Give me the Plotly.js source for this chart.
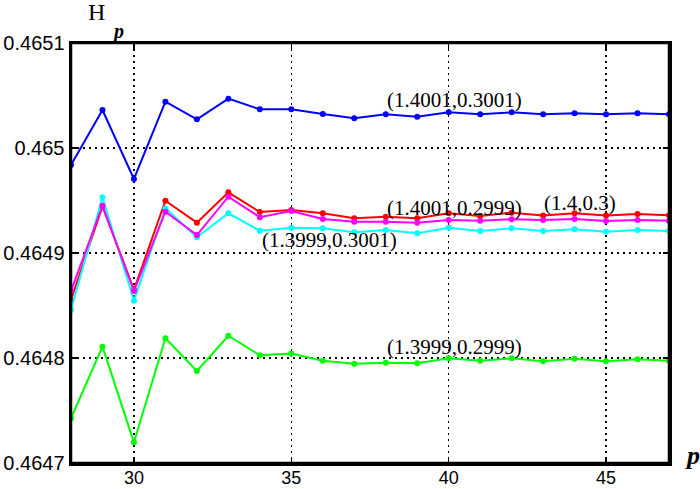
<!DOCTYPE html>
<html>
<head>
<meta charset="utf-8">
<script src="https://cdn.plot.ly/plotly-3.0.1.min.js"></script>
<style>html,body{margin:0;padding:0;background:#fff;}#chart{width:700px;height:489px;}</style>
</head>
<body>
<div id="chart"></div>
<script>
const p = [28,29,30,31,32,33,34,35,36,37,38,39,40,41,42,43,44,45,46,47];

const h_14001_03001 = [0.4649838,0.4650362,0.4649705,0.4650441,0.4650273,0.4650470,0.4650368,0.4650368,0.4650324,0.4650283,
                       0.4650321,0.4650298,0.4650340,0.4650321,0.4650340,0.4650321,0.4650330,0.4650321,0.4650330,0.4650321];
const h_14001_02999 = [0.4648552,0.4649445,0.4648650,0.4649498,0.4649289,0.4649578,0.4649390,0.4649410,0.4649378,0.4649330,
                       0.4649346,0.4649330,0.4649378,0.4649352,0.4649384,0.4649356,0.4649378,0.4649356,0.4649371,0.4649359];
const h_14_03       = [0.4648638,0.4649450,0.4648638,0.4649393,0.4649171,0.4649536,0.4649340,0.4649400,0.4649324,0.4649298,
                       0.4649298,0.4649289,0.4649314,0.4649308,0.4649321,0.4649314,0.4649324,0.4649305,0.4649314,0.4649308];
const h_13999_03001 = [0.4648457,0.4649530,0.4648546,0.4649425,0.4649150,0.4649378,0.4649212,0.4649241,0.4649235,0.4649197,
                       0.4649219,0.4649188,0.4649241,0.4649210,0.4649235,0.4649210,0.4649226,0.4649203,0.4649219,0.4649210];
const h_13999_02999 = [0.4647426,0.4648108,0.4647197,0.4648188,0.4647876,0.4648212,0.4648026,0.4648042,0.4647974,0.4647946,
                       0.4647955,0.4647950,0.4647997,0.4647974,0.4647997,0.4647968,0.4647993,0.4647968,0.4647987,0.4647974];

const xTicks = [30,35,40,45];
const yTicks = [0.4647,0.4648,0.4649,0.465,0.4651];
const yTickText = ['0.4647','0.4648','0.4649','0.465','0.4651'];
const labels = ['(1.4001,0.3001)','(1.4001,0.2999)','(1.4,0.3)','(1.3999,0.3001)','(1.3999,0.2999)'];

function tr(y, color) {
  return {x: p, y: y, type: 'scatter', mode: 'lines+markers',
          line: {color: color, width: 2}, marker: {color: color, size: 6}, hoverinfo: 'skip'};
}
const data = [
  tr(h_14001_03001, '#0000ff'),
  tr(h_14001_02999, '#ff0000'),
  tr(h_13999_03001, '#00ffff'),
  tr(h_13999_02999, '#00ff00'),
  tr(h_14_03, '#ff00ff')
];

const annFont = {family: 'Liberation Serif, Times New Roman, serif', size: 21, color: '#000'};
function ann(x, y, t) {
  return {x: x, y: y, xref: 'x', yref: 'y', text: t, showarrow: false, xanchor: 'center', yanchor: 'middle', font: annFont};
}

const axisCommon = {
  showgrid: true, gridcolor: '#000', gridwidth: 1.5, griddash: '2px,4px',
  zeroline: false, showline: true, linecolor: '#000', linewidth: 2.5, mirror: 'ticks',
  ticks: 'inside', ticklen: 6, tickwidth: 1.5, tickcolor: '#000'
};

const layout = {
  width: 700, height: 489,
  margin: {l: 71, r: 31, t: 43, b: 26, pad: 0},
  paper_bgcolor: '#fff', plot_bgcolor: '#fff',
  showlegend: false,
  xaxis: Object.assign({}, axisCommon, {
    range: [28, 47], tickvals: xTicks, ticktext: xTicks.map(String),
    ticklabelstandoff: -3,
    tickfont: {family: 'Liberation Sans, Arial, sans-serif', size: 18, color: '#000'}
  }),
  yaxis: Object.assign({}, axisCommon, {
    range: [0.4647, 0.4651], tickvals: yTicks, ticktext: yTickText,
    tickfont: {family: 'Liberation Sans, Arial, sans-serif', size: 20, color: '#000'}
  }),
  shapes: [
    {type: 'rect', xref: 'paper', yref: 'paper', x0: 0, x1: 1, y0: 0, y1: 1,
     line: {color: '#000', width: 2.5}, fillcolor: 'rgba(0,0,0,0)', layer: 'above'}
  ],
  annotations: [
    ann(40.2, 0.4650457, labels[0]),
    ann(40.2, 0.464943, labels[1]),
    ann(44.18, 0.4649476, labels[2]),
    ann(36.2, 0.4649124, labels[3]),
    ann(40.2, 0.4648105, labels[4]),
    {x: 96, y: 12, xref: 'paper', yref: 'paper', text: 'H', showarrow: false, xanchor: 'center', yanchor: 'middle',
     font: {family: 'Liberation Serif, Times New Roman, serif', size: 24, color: '#000'}},
    {x: 118, y: 31, xref: 'paper', yref: 'paper', text: '<b><i>p</i></b>', showarrow: false, xanchor: 'center', yanchor: 'middle',
     font: {family: 'Liberation Serif, Times New Roman, serif', size: 20, color: '#000'}},
    {x: 692, y: 455, xref: 'paper', yref: 'paper', text: '<b><i>p</i></b>', showarrow: false, xanchor: 'center', yanchor: 'middle',
     font: {family: 'Liberation Serif, Times New Roman, serif', size: 26, color: '#000'}}
  ]
};

const pw = 700 - 71 - 31, ph = 489 - 43 - 26;
layout.annotations.forEach(a => {
  if (a.xref === 'paper') {
    a.x = (a.x - 71) / pw;
    a.y = 1 - (a.y - 43) / ph;
  }
});

Plotly.newPlot('chart', data, layout, {displayModeBar: false, staticPlot: true});
</script>
</body>
</html>
